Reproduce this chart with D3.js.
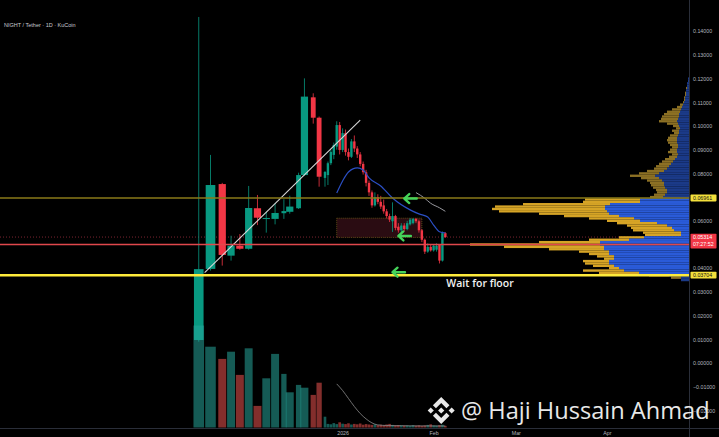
<!DOCTYPE html>
<html>
<head>
<meta charset="utf-8">
<script src="https://cdn.jsdelivr.net/npm/d3@7"></script>
<style>
  html, body { margin: 0; padding: 0; background: #000; }
  svg { display: block; }
</style>
</head>
<body>
<div id="chart"></div>
<script>
// ===== Data =====
const chartTitle = "NIGHT / Tether · 1D · KuCoin";

const candleDates = [
  "2025-11-13","2025-11-17","2025-11-21","2025-11-24","2025-11-27","2025-11-30","2025-12-03","2025-12-06",
  "2025-12-09","2025-12-12","2025-12-14","2025-12-17","2025-12-19","2025-12-22","2025-12-24",
  "2025-12-26","2025-12-27","2025-12-28","2025-12-29","2025-12-30","2025-12-31","2026-01-01","2026-01-02",
  "2026-01-03","2026-01-04","2026-01-05","2026-01-06","2026-01-07","2026-01-08","2026-01-09","2026-01-10",
  "2026-01-11","2026-01-12","2026-01-13","2026-01-14","2026-01-15","2026-01-16","2026-01-17","2026-01-18",
  "2026-01-19","2026-01-20","2026-01-21","2026-01-22","2026-01-23","2026-01-24","2026-01-25","2026-01-26",
  "2026-01-27","2026-01-28","2026-01-29","2026-01-30","2026-01-31","2026-02-01","2026-02-02","2026-02-03",
  "2026-02-04","2026-02-05"
];
const opens = [
  0.0097,0.0397,0.0755,0.0453,0.0495,0.0482,0.0653,0.0608,0.0608,0.0632,0.0638,0.0653,0.0793,0.1121,0.1035,
  0.0781,0.0793,0.0843,0.0878,0.0913,0.1004,0.0899,0.0970,0.0890,0.0870,0.0935,0.0905,0.0880,0.0840,0.0805,0.0760,
  0.0720,0.0665,0.0700,0.0680,0.0665,0.0640,0.0620,0.0598,0.0620,0.0575,0.0560,0.0580,0.0565,0.0585,0.0590,0.0608,
  0.0598,0.0560,0.0520,0.0470,0.0490,0.0475,0.0478,0.0498,0.0432,0.0548
];
const highs = [
  0.1460,0.0878,0.0760,0.0537,0.0544,0.0747,0.0709,0.0638,0.0674,0.0691,0.0706,0.0803,0.1201,0.1138,0.1040,
  0.0810,0.0850,0.0900,0.0930,0.1020,0.1017,0.0990,0.0985,0.0905,0.0945,0.0960,0.0915,0.0890,0.0850,0.0815,0.0770,
  0.0728,0.0720,0.0712,0.0705,0.0690,0.0650,0.0630,0.0678,0.0625,0.0590,0.0590,0.0590,0.0600,0.0612,0.0612,0.0612,
  0.0605,0.0565,0.0525,0.0505,0.0500,0.0500,0.0505,0.0502,0.0555,0.0552
];
const lows = [
  0.0090,0.0390,0.0411,0.0432,0.0478,0.0478,0.0582,0.0550,0.0585,0.0608,0.0630,0.0650,0.0790,0.1010,0.0744,
  0.0744,0.0751,0.0835,0.0860,0.0900,0.0880,0.0890,0.0875,0.0855,0.0865,0.0890,0.0865,0.0830,0.0795,0.0745,0.0705,
  0.0655,0.0660,0.0670,0.0650,0.0630,0.0610,0.0595,0.0553,0.0560,0.0550,0.0545,0.0555,0.0560,0.0580,0.0585,0.0590,
  0.0550,0.0510,0.0460,0.0465,0.0470,0.0470,0.0470,0.0420,0.0428,0.0528
];
const closes = [
  0.0396,0.0751,0.0456,0.0495,0.0482,0.0654,0.0613,0.0612,0.0633,0.0641,0.0660,0.0793,0.1124,0.1035,0.0786,
  0.0806,0.0843,0.0891,0.0920,0.1004,0.0899,0.0970,0.0890,0.0870,0.0935,0.0905,0.0880,0.0840,0.0805,0.0760,0.0720,
  0.0665,0.0700,0.0680,0.0660,0.0640,0.0620,0.0605,0.0620,0.0570,0.0560,0.0580,0.0565,0.0590,0.0605,0.0608,0.0598,
  0.0560,0.0520,0.0470,0.0490,0.0475,0.0495,0.0495,0.0432,0.0548,0.05314
];
// volume in millions
const volumes = [
  51.0,40.4,34.3,37.9,26.3,39.6,10.8,24.6,36.8,26.8,17.6,21.3,19.9,16.3,22.4,
  5.4,1.8,1.6,2.2,1.7,2.6,1.9,1.7,2.1,1.5,1.8,1.6,2.0,1.4,1.7,1.5,
  1.3,1.6,1.2,1.4,1.1,1.5,1.8,1.3,1.0,1.2,1.1,0.9,1.0,0.8,1.2,0.9,
  1.1,0.8,1.0,1.3,1.6,1.0,0.9,1.2,1.4,0.8
];

// moving averages on price (blue = short, grey = long)
const blueMaDates = ["2025-12-30","2026-01-01","2026-01-03","2026-01-06","2026-01-08","2026-01-10","2026-01-14",
  "2026-01-18","2026-01-24","2026-01-27","2026-01-30","2026-02-01","2026-02-03","2026-02-05"];
const blueMaValues = [0.0717,0.0768,0.0806,0.0823,0.0814,0.0781,0.0747,0.0696,0.0646,0.0629,0.0616,0.0582,0.0554,0.0549];
const greyMaDates = ["2026-01-26","2026-01-29","2026-01-31","2026-02-03","2026-02-05"];
const greyMaValues = [0.0719,0.0695,0.0674,0.0655,0.0640];

// volume moving average (millions)
const volMaDates = ["2025-12-30","2026-01-01","2026-01-03","2026-01-05","2026-01-07","2026-01-09","2026-01-11",
  "2026-01-13","2026-01-16","2026-01-21","2026-01-26","2026-01-31","2026-02-05"];
const volMaValues = [21.8,18.5,14.5,10.5,7.0,4.3,2.3,1.3,1.0,0.9,0.8,0.8,0.75];

// drawn trend line
const trendDates = ["2025-11-15","2026-01-07"];
const trendPrices = [0.0381,0.1025];

// zone box
const zoneDates = ["2025-12-30","2026-01-28"];
const zonePrices = [0.0611,0.0530];

// horizontal levels: value area high, support, value area low
const levelPrices = [0.06961,0.0500,0.03704];
const lastPrice = 0.05314;
const countdown = "07:27:52";

// green arrows (tip position)
const arrowDates = ["2026-01-22","2026-01-20","2026-01-18"];
const arrowPrices = [0.0694,0.0536,0.0383];

const noteText = "Wait for floor";
const noteDate = "2026-02-05";
const notePrice = 0.0319;

// volume profile, rows of 0.001
const profilePrices = [
  0.120,0.119,0.118,0.117,0.116,0.115,0.114,0.113,0.112,0.111,0.110,0.109,0.108,0.107,0.106,0.105,0.104,0.103,
  0.102,0.101,0.100,0.099,0.098,0.097,0.096,0.095,0.094,0.093,0.092,0.091,0.090,0.089,0.088,0.087,0.086,0.085,
  0.084,0.083,0.082,0.081,0.080,0.079,0.078,0.077,0.076,0.075,0.074,0.073,0.072,0.071,0.070,0.069,0.068,0.067,
  0.066,0.065,0.064,0.063,0.062,0.061,0.060,0.059,0.058,0.057,0.056,0.055,0.054,0.053,0.052,0.051,0.050,0.049,
  0.048,0.047,0.046,0.045,0.044,0.043,0.042,0.041,0.040,0.039,0.038,0.037,0.036,0.035
];
const profileUp = [
  1,1,2,2,2,3,3,3,4,4,5,6,7,8,9,10,10,11,
  12,11,10,9,10,10,11,12,12,12,11,11,12,12,11,12,14,16,
  18,20,22,25,30,34,30,27,25,25,24,22,22,24,26,49,49,79,
  84,84,82,80,70,55,49,32,22,17,15,8,8,45,60,89,89,85,
  85,80,80,75,75,80,80,75,70,65,50,20,8,8
];
const profileDown = [
  0,0,0,0,1,0,1,1,1,1,1,3,5,9,13,15,17,17,
  18,11,6,4,7,5,8,9,10,9,8,6,7,9,6,8,10,11,
  12,13,13,17,20,25,18,15,14,13,12,11,10,11,13,55,57,87,
  110,113,108,70,55,45,33,40,40,41,41,38,36,25,40,61,130,100,
  55,30,20,17,10,26,24,21,10,41,40,20,10,0
];

// axes
const priceTicks = [0.14,0.13,0.12,0.11,0.10,0.09,0.08,0.07,0.06,0.05,0.04,0.03,0.02,0.01,0.00,-0.01,-0.02];
const timeTicks = ["2026-01-01","2026-02-01","2026-03-01","2026-04-01"];
const timeLabels = ["2026","Feb","Mar","Apr"];

const watermark = "@ Haji Hussain Ahmad";

// ===== Drawing =====
const width = 719;
const height = 437;
const axisX = 689;      // right price scale border
const axisY = 428;      // time scale border

const parseDate = d3.utcParse("%Y-%m-%d");

const svg = d3.select("#chart")
    .append("svg")
    .attr("width", width)
    .attr("height", height)
    .style("background", "#000");

svg.append("defs").append("clipPath")
    .attr("id", "plotClip")
    .append("rect")
    .attr("x", 0).attr("y", 0)
    .attr("width", axisX).attr("height", axisY);

// scales
const x = d3.scaleUtc()
    .domain([parseDate("2026-01-01"), parseDate("2026-04-01")])
    .range([342.6, 606.8]);

const y = d3.scaleLinear()
    .domain([0, 0.14])
    .range([363, 31.2]);

const yVol = d3.scaleLinear()
    .domain([0, d3.max(volumes)])
    .range([427.5, 325.5]);

const profTotals = profileUp.map((u, i) => u + profileDown[i]);
const xProf = d3.scaleLinear()
    .domain([0, d3.max(profTotals)])
    .range([0, 219]);

// build candle records
const candles = candleDates.map((d, i) => ({
    date: parseDate(d),
    open: opens[i], high: highs[i], low: lows[i], close: closes[i],
    volume: volumes[i]
}));
candles.forEach((c, i) => {
    const cx = x(c.date);
    const next = candles[i + 1] ? x(candles[i + 1].date) - cx : cx - x(candles[i - 1].date);
    c.cx = cx;
    c.gap = next;
    c.up = c.close >= c.open;
});

const plot = svg.append("g").attr("clip-path", "url(#plotClip)");

// title
svg.append("text")
    .attr("x", 4).attr("y", 27)
    .attr("fill", "#c8cad2")
    .style("font-family", "Liberation Sans, Arial, sans-serif")
    .style("font-size", "5.5px")
    .text(chartTitle);

// current price dotted line
plot.append("line")
    .attr("x1", 0).attr("x2", axisX)
    .attr("y1", y(lastPrice)).attr("y2", y(lastPrice))
    .attr("stroke", "#7a2431")
    .attr("stroke-width", 1)
    .attr("stroke-dasharray", "1,2");

// zone box
plot.append("rect")
    .attr("x", x(parseDate(zoneDates[0])))
    .attr("y", y(zonePrices[0]))
    .attr("width", x(parseDate(zoneDates[1])) - x(parseDate(zoneDates[0])))
    .attr("height", y(zonePrices[1]) - y(zonePrices[0]))
    .attr("fill", "#2a0c12")
    .attr("stroke", "#6e5a1c")
    .attr("stroke-width", 0.8)
    .attr("stroke-dasharray", "1,1");

// volume profile (anchored at the price scale)
const vah = levelPrices[0], val = levelPrices[2];
const rowTop = p => y(p + 0.0005);
const rowH = p => y(p - 0.0005) - y(p + 0.0005);
const inVA = p => p <= vah && p >= val;

profilePrices.forEach((p, i) => {
    const upW = xProf(profileUp[i]);
    const dnW = xProf(profileDown[i]);
    // up volume next to the scale
    plot.append("rect")
        .attr("x", axisX - upW)
        .attr("y", rowTop(p))
        .attr("width", upW)
        .attr("height", rowH(p))
        .attr("fill", inVA(p) ? "#2a5bd8" : "#1b3a88");
    plot.append("rect")
        .attr("x", axisX - upW - dnW)
        .attr("y", rowTop(p))
        .attr("width", dnW)
        .attr("height", rowH(p))
        .attr("fill", inVA(p) ? "#d6a426" : "#8c7024");
});

// candles
const upColor = "#089981";
const downColor = "#f23645";

plot.selectAll(".wick")
    .data(candles)
    .join("line")
    .attr("class", "wick")
    .attr("x1", d => d.cx).attr("x2", d => d.cx)
    .attr("y1", d => y(d.high)).attr("y2", d => y(d.low))
    .attr("stroke", d => d.up ? upColor : downColor)
    .attr("stroke-width", 0.8);

plot.selectAll(".body")
    .data(candles)
    .join("rect")
    .attr("class", "body")
    .attr("x", d => d.cx - d.gap * 0.41)
    .attr("width", d => d.gap * 0.82)
    .attr("y", d => y(Math.max(d.open, d.close)))
    .attr("height", d => Math.max(1, Math.abs(y(d.open) - y(d.close))))
    .attr("fill", d => d.up ? upColor : downColor);

// moving averages
const line = d3.line()
    .x(d => x(d[0]))
    .y(d => y(d[1]))
    .curve(d3.curveMonotoneX);

plot.append("path")
    .datum(blueMaDates.map((d, i) => [parseDate(d), blueMaValues[i]]))
    .attr("d", line)
    .attr("fill", "none")
    .attr("stroke", "#2b4fc4")
    .attr("stroke-width", 1.2);

plot.append("path")
    .datum(greyMaDates.map((d, i) => [parseDate(d), greyMaValues[i]]))
    .attr("d", line)
    .attr("fill", "none")
    .attr("stroke", "#9a9aa0")
    .attr("stroke-width", 1);

// trend line
plot.append("line")
    .attr("x1", x(parseDate(trendDates[0]))).attr("y1", y(trendPrices[0]))
    .attr("x2", x(parseDate(trendDates[1]))).attr("y2", y(trendPrices[1]))
    .attr("stroke", "#d8d8d8")
    .attr("stroke-width", 1.1);

// horizontal levels
const levelColors = ["#8a7a18", "#e0474c", "#ffeb3b"];
const levelWidths = [1.4, 1.5, 2.4];
levelPrices.forEach((p, i) => {
    plot.append("line")
        .attr("x1", 0).attr("x2", axisX)
        .attr("y1", y(p)).attr("y2", y(p))
        .attr("stroke", levelColors[i])
        .attr("stroke-width", levelWidths[i]);
});

// volume bars drawn over the price pane
plot.selectAll(".vol")
    .data(candles)
    .join("rect")
    .attr("class", "vol")
    .attr("x", d => d.cx - d.gap * 0.45)
    .attr("width", d => d.gap * 0.9)
    .attr("y", d => yVol(d.volume))
    .attr("height", d => yVol(0) - yVol(d.volume))
    .attr("fill", d => d.up ? "rgba(38,166,154,0.55)" : "rgba(239,83,80,0.55)");

// volume MA
const volLine = d3.line()
    .x(d => x(d[0]))
    .y(d => yVol(d[1]))
    .curve(d3.curveMonotoneX);

plot.append("path")
    .datum(volMaDates.map((d, i) => [parseDate(d), volMaValues[i]]))
    .attr("d", volLine)
    .attr("fill", "none")
    .attr("stroke", "#8c8c8c")
    .attr("stroke-width", 0.8);

// green arrows pointing left
arrowDates.forEach((d, i) => {
    const tx = x(parseDate(d));
    const ty = y(arrowPrices[i]);
    plot.append("path")
        .attr("d", `M${tx + 12.5},${ty} L${tx},${ty} M${tx + 5},${ty - 4.5} L${tx},${ty} L${tx + 5},${ty + 4.5}`)
        .attr("fill", "none")
        .attr("stroke", "#45d35a")
        .attr("stroke-width", 2.4)
        .attr("stroke-linecap", "round")
        .attr("stroke-linejoin", "round");
});

// note
plot.append("text")
    .attr("x", x(parseDate(noteDate)) + 1)
    .attr("y", y(notePrice))
    .attr("fill", "#f2f2f2")
    .style("font-family", "Open Sans, sans-serif")
    .style("font-size", "10.5px")
    .style("font-weight", "600")
    .text(noteText);

// ===== Axes =====
svg.append("line")
    .attr("x1", axisX + 0.5).attr("x2", axisX + 0.5)
    .attr("y1", 0).attr("y2", height)
    .attr("stroke", "#2a2e39");

svg.append("line")
    .attr("x1", 0).attr("x2", width)
    .attr("y1", axisY + 0.5).attr("y2", axisY + 0.5)
    .attr("stroke", "#2a2e39");

const fmt = d3.format(".5f");
const yAxis = svg.append("g")
    .attr("transform", `translate(${axisX + 3}, 0)`)
    .call(d3.axisRight(y).tickValues(priceTicks).tickSize(0).tickPadding(1)
        .tickFormat(d => d < 0 ? "\u2212" + fmt(-d) : fmt(d)));
yAxis.select(".domain").remove();
yAxis.selectAll("text")
    .attr("fill", "#b2b5be")
    .style("font-family", "Liberation Sans, Arial, sans-serif")
    .style("font-size", "5.3px");

const xAxis = svg.append("g")
    .attr("transform", `translate(0, ${axisY + 2})`)
    .call(d3.axisBottom(x).tickValues(timeTicks.map(parseDate)).tickSize(0).tickPadding(1)
        .tickFormat((d, i) => timeLabels[i]));
xAxis.select(".domain").remove();
xAxis.selectAll("text")
    .attr("fill", "#b2b5be")
    .style("font-family", "Liberation Sans, Arial, sans-serif")
    .style("font-size", "5.3px");

// price tags on the scale
function priceTag(p, fill, textColor, lines) {
    const h = lines.length === 1 ? 6.8 : 14.8;
    const g = svg.append("g");
    g.append("rect")
        .attr("x", axisX + 1.5).attr("y", y(p) - 3.4)
        .attr("width", 26).attr("height", h)
        .attr("rx", 0.8)
        .attr("fill", fill);
    lines.forEach((t, k) => {
        g.append("text")
            .attr("x", axisX + 4).attr("y", y(p) + 1.9 + k * 7)
            .attr("fill", textColor)
            .style("font-family", "Liberation Sans, Arial, sans-serif")
            .style("font-size", "5.3px")
            .text(t);
    });
}
priceTag(levelPrices[0], "#f3e03c", "#111", [fmt(levelPrices[0])]);
priceTag(lastPrice, "#f23645", "#fff", [fmt(lastPrice), countdown]);
priceTag(levelPrices[2], "#f3e03c", "#111", [fmt(levelPrices[2])]);

// ===== Watermark =====
const logo = svg.append("g")
    .attr("transform", "translate(427.7, 397) scale(0.2133)")
    .attr("fill", "#e8e8e8");
[
    "M38.73,53.2 L63.3,28.63 L87.89,53.22 L102.2,38.92 L63.3,0 L24.42,38.9 Z",
    "M0,63.31 L14.3,49 L28.6,63.31 L14.3,77.61 Z",
    "M38.73,73.41 L63.3,97.99 L87.89,73.4 L102.2,87.7 L63.3,126.61 L24.42,87.72 Z",
    "M98,63.31 L112.3,49 L126.61,63.31 L112.3,77.61 Z",
    "M77.83,63.3 L63.3,48.77 L48.78,63.29 L63.3,77.81 Z"
].forEach(p => logo.append("path").attr("d", p));

svg.append("text")
    .attr("x", 461)
    .attr("y", 419.3)
    .attr("fill", "#e8e8e8")
    .style("font-family", "Open Sans, sans-serif")
    .style("font-size", "23.6px")
    .text(watermark);
</script>
</body>
</html>
